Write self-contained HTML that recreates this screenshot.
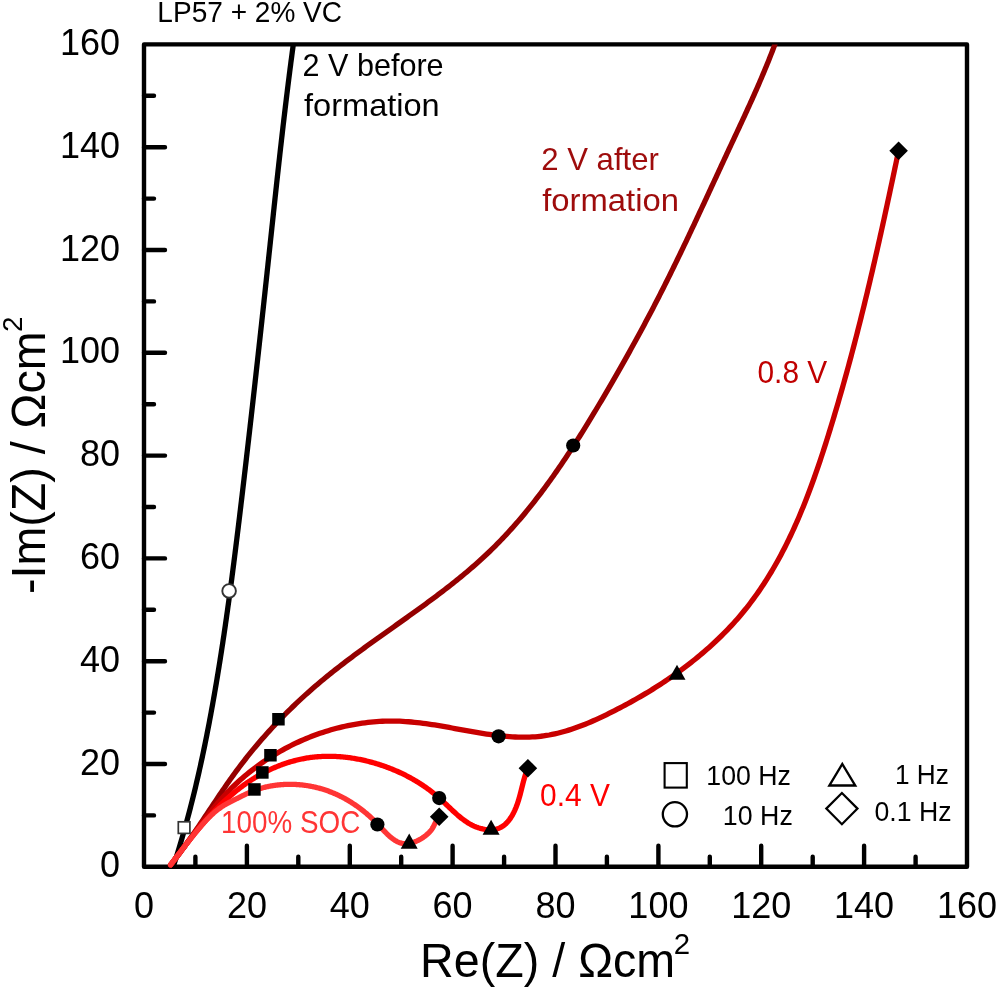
<!DOCTYPE html>
<html><head><meta charset="utf-8"><style>
html,body{margin:0;padding:0;background:#fff;width:998px;height:988px;overflow:hidden}
svg{display:block;filter:blur(0.4px)}
text{font-family:"Liberation Sans",sans-serif}
</style></head><body>
<svg width="998" height="988" viewBox="0 0 998 988">
<rect width="998" height="988" fill="#fff"/>
<path d="M195.4,866.8 v-10 M144.0,815.4 h10 M246.9,866.8 v-21 M144.0,764.0 h21 M298.3,866.8 v-10 M144.0,712.6 h10 M349.8,866.8 v-21 M144.0,661.2 h21 M401.2,866.8 v-10 M144.0,609.8 h10 M452.6,866.8 v-21 M144.0,558.4 h21 M504.1,866.8 v-10 M144.0,507.0 h10 M555.5,866.8 v-21 M144.0,455.6 h21 M606.9,866.8 v-10 M144.0,404.2 h10 M658.4,866.8 v-21 M144.0,352.8 h21 M709.8,866.8 v-10 M144.0,301.4 h10 M761.2,866.8 v-21 M144.0,250.0 h21 M812.7,866.8 v-10 M144.0,198.6 h10 M864.1,866.8 v-21 M144.0,147.2 h21 M915.6,866.8 v-10 M144.0,95.8 h10" stroke="#000" stroke-width="4.4" stroke-linecap="round" fill="none"/>
<rect x="144.0" y="44.4" width="823.0" height="822.4" fill="none" stroke="#000" stroke-width="4.4" stroke-linejoin="round"/>
<clipPath id="c"><rect x="144.0" y="44.4" width="823.0" height="832.4"/></clipPath>
<g clip-path="url(#c)">
<path d="M173.49,866.00 L174.13,864.01 L174.77,862.03 L175.40,860.04 L176.03,858.05 L176.66,856.06 L177.27,854.07 L177.89,852.08 L178.50,850.08 L179.11,848.09 L179.71,846.09 L180.30,844.09 L180.90,842.10 L181.48,840.10 L182.07,838.10 L182.65,836.10 L183.22,834.09 L183.79,832.09 L184.36,830.09 L184.92,828.08 L185.48,826.07 L186.04,824.07 L186.59,822.06 L187.13,820.05 L187.67,818.04 L188.21,816.03 L188.75,814.02 L189.28,812.00 L189.80,809.99 L190.33,807.97 L190.84,805.96 L191.36,803.94 L191.87,801.92 L192.38,799.90 L192.88,797.88 L193.38,795.86 L193.88,793.84 L194.37,791.82 L194.86,789.80 L195.35,787.77 L195.83,785.75 L196.31,783.72 L196.78,781.70 L197.25,779.67 L197.72,777.64 L198.19,775.61 L198.65,773.58 L199.11,771.55 L199.56,769.52 L200.02,767.49 L200.47,765.46 L200.91,763.43 L201.35,761.39 L201.79,759.36 L202.23,757.32 L202.67,755.29 L203.10,753.25 L203.52,751.21 L203.95,749.17 L204.37,747.14 L204.79,745.10 L205.21,743.06 L205.62,741.02 L206.03,738.98 L206.44,736.93 L206.84,734.89 L207.25,732.85 L207.65,730.81 L208.04,728.76 L208.44,726.72 L208.83,724.67 L209.22,722.63 L209.61,720.58 L209.99,718.54 L210.38,716.49 L210.76,714.44 L211.14,712.39 L211.51,710.34 L211.88,708.30 L212.26,706.25 L212.63,704.20 L212.99,702.15 L213.36,700.10 L213.72,698.05 L214.08,695.99 L214.44,693.94 L214.79,691.89 L215.15,689.84 L215.50,687.78 L215.85,685.73 L216.20,683.68 L216.55,681.62 L216.89,679.57 L217.23,677.51 L217.57,675.46 L217.91,673.40 L218.25,671.35 L218.58,669.29 L218.92,667.23 L219.25,665.18 L219.58,663.12 L219.91,661.06 L220.23,659.01 L220.56,656.95 L220.88,654.89 L221.20,652.83 L221.52,650.77 L221.84,648.71 L222.15,646.65 L222.47,644.59 L222.78,642.53 L223.09,640.47 L223.40,638.41 L223.71,636.35 L224.02,634.29 L224.32,632.23 L224.63,630.16 L224.93,628.10 L225.23,626.04 L225.53,623.98 L225.82,621.91 L226.12,619.85 L226.42,617.79 L226.71,615.72 L227.00,613.66 L227.29,611.59 L227.58,609.53 L227.87,607.46 L228.16,605.40 L228.44,603.33 L228.73,601.27 L229.01,599.20 L229.29,597.14 L229.57,595.07 L229.85,593.01 L230.13,590.94 L230.41,588.87 L230.69,586.81 L230.96,584.74 L231.24,582.67 L231.51,580.61 L231.78,578.54 L232.05,576.47 L232.32,574.40 L232.59,572.34 L232.86,570.27 L233.13,568.20 L233.39,566.13 L233.66,564.06 L233.92,561.99 L234.19,559.93 L234.45,557.86 L234.71,555.79 L234.97,553.72 L235.23,551.65 L235.49,549.58 L235.75,547.51 L236.01,545.44 L236.27,543.37 L236.52,541.30 L236.78,539.23 L237.04,537.16 L237.29,535.10 L237.54,533.03 L237.80,530.96 L238.05,528.89 L238.30,526.82 L238.55,524.75 L238.81,522.68 L239.06,520.61 L239.31,518.54 L239.56,516.47 L239.81,514.39 L240.05,512.32 L240.30,510.25 L240.55,508.18 L240.80,506.11 L241.04,504.04 L241.29,501.97 L241.54,499.90 L241.78,497.83 L242.03,495.76 L242.28,493.69 L242.52,491.62 L242.77,489.55 L243.01,487.48 L243.25,485.41 L243.50,483.34 L243.74,481.27 L243.99,479.20 L244.23,477.13 L244.47,475.06 L244.71,472.99 L244.96,470.92 L245.20,468.85 L245.44,466.78 L245.68,464.71 L245.92,462.64 L246.16,460.57 L246.40,458.50 L246.64,456.43 L246.88,454.36 L247.12,452.29 L247.36,450.22 L247.60,448.15 L247.84,446.07 L248.08,444.00 L248.32,441.93 L248.56,439.86 L248.79,437.79 L249.03,435.72 L249.27,433.65 L249.51,431.58 L249.74,429.51 L249.98,427.44 L250.21,425.37 L250.45,423.30 L250.69,421.23 L250.92,419.16 L251.16,417.09 L251.39,415.02 L251.63,412.95 L251.86,410.88 L252.10,408.81 L252.33,406.74 L252.56,404.67 L252.80,402.60 L253.03,400.53 L253.26,398.46 L253.50,396.39 L253.73,394.32 L253.96,392.25 L254.19,390.17 L254.43,388.10 L254.66,386.03 L254.89,383.96 L255.12,381.89 L255.35,379.82 L255.58,377.75 L255.81,375.68 L256.04,373.61 L256.27,371.54 L256.50,369.47 L256.73,367.40 L256.96,365.33 L257.19,363.26 L257.42,361.19 L257.65,359.12 L257.88,357.05 L258.11,354.97 L258.34,352.90 L258.57,350.83 L258.80,348.76 L259.02,346.69 L259.25,344.62 L259.48,342.55 L259.71,340.48 L259.93,338.41 L260.16,336.34 L260.39,334.27 L260.62,332.20 L260.84,330.13 L261.07,328.05 L261.30,325.98 L261.52,323.91 L261.75,321.84 L261.97,319.77 L262.20,317.70 L262.42,315.63 L262.65,313.56 L262.88,311.49 L263.10,309.42 L263.33,307.34 L263.55,305.27 L263.78,303.20 L264.00,301.13 L264.22,299.06 L264.45,296.99 L264.67,294.92 L264.90,292.85 L265.12,290.78 L265.34,288.70 L265.57,286.63 L265.79,284.56 L266.02,282.49 L266.24,280.42 L266.46,278.35 L266.68,276.28 L266.91,274.20 L267.13,272.13 L267.35,270.06 L267.58,267.99 L267.80,265.92 L268.02,263.85 L268.24,261.78 L268.47,259.70 L268.69,257.63 L268.91,255.56 L269.13,253.49 L269.35,251.42 L269.57,249.35 L269.80,247.27 L270.02,245.20 L270.24,243.13 L270.46,241.06 L270.68,238.99 L270.90,236.91 L271.13,234.84 L271.35,232.77 L271.57,230.70 L271.79,228.63 L272.01,226.56 L272.23,224.48 L272.45,222.41 L272.68,220.34 L272.90,218.27 L273.12,216.20 L273.34,214.12 L273.56,212.05 L273.79,209.98 L274.01,207.91 L274.23,205.84 L274.46,203.76 L274.68,201.69 L274.90,199.62 L275.13,197.55 L275.35,195.48 L275.57,193.41 L275.80,191.33 L276.02,189.26 L276.25,187.19 L276.47,185.12 L276.70,183.05 L276.92,180.98 L277.15,178.90 L277.38,176.83 L277.61,174.76 L277.83,172.69 L278.06,170.62 L278.29,168.55 L278.52,166.47 L278.75,164.40 L278.98,162.33 L279.21,160.26 L279.44,158.19 L279.67,156.12 L279.90,154.05 L280.13,151.98 L280.37,149.91 L280.60,147.83 L280.84,145.76 L281.07,143.69 L281.31,141.62 L281.54,139.55 L281.78,137.48 L282.02,135.41 L282.25,133.34 L282.49,131.27 L282.73,129.20 L282.97,127.13 L283.21,125.06 L283.45,122.99 L283.70,120.92 L283.94,118.85 L284.18,116.78 L284.43,114.71 L284.67,112.64 L284.92,110.57 L285.16,108.50 L285.41,106.43 L285.66,104.36 L285.91,102.29 L286.16,100.22 L286.41,98.15 L286.66,96.09 L286.92,94.02 L287.17,91.95 L287.43,89.88 L287.68,87.81 L287.94,85.74 L288.20,83.67 L288.46,81.61 L288.72,79.54 L288.98,77.47 L289.24,75.40 L289.50,73.33 L289.77,71.27 L290.03,69.20 L290.30,67.13 L290.57,65.06 L290.83,63.00 L291.10,60.93 L291.38,58.86 L291.65,56.80 L291.92,54.73 L292.20,52.66 L292.47,50.60 L292.75,48.53 L293.03,46.47 L293.31,44.40" stroke="#000" stroke-width="5.3" fill="none" stroke-linecap="round" stroke-linejoin="round"/>
<path d="M170.61,864.80 L172.23,862.80 L173.83,860.78 L175.42,858.75 L177.00,856.71 L178.56,854.65 L180.12,852.59 L181.66,850.51 L183.19,848.43 L184.72,846.33 L186.23,844.23 L187.74,842.12 L189.23,840.00 L190.72,837.87 L192.21,835.74 L193.68,833.60 L195.15,831.45 L196.62,829.30 L198.08,827.15 L199.54,824.99 L200.99,822.82 L202.44,820.66 L203.89,818.49 L205.33,816.32 L206.78,814.14 L208.22,811.97 L209.66,809.80 L211.11,807.62 L212.55,805.45 L214.00,803.27 L215.45,801.10 L216.90,798.93 L218.35,796.76 L219.81,794.60 L221.28,792.44 L222.74,790.28 L224.22,788.13 L225.69,785.98 L227.18,783.84 L228.67,781.71 L230.17,779.58 L231.68,777.46 L233.20,775.35 L234.73,773.24 L236.26,771.14 L237.81,769.06 L239.37,766.98 L240.94,764.91 L242.51,762.85 L244.10,760.80 L245.70,758.75 L247.31,756.72 L248.93,754.70 L250.56,752.68 L252.19,750.67 L253.84,748.68 L255.50,746.69 L257.17,744.71 L258.84,742.74 L260.53,740.78 L262.23,738.82 L263.93,736.88 L265.65,734.95 L267.37,733.02 L269.11,731.10 L270.85,729.20 L272.61,727.30 L274.37,725.41 L276.14,723.53 L277.92,721.66 L279.71,719.80 L281.51,717.94 L283.32,716.10 L285.14,714.26 L286.97,712.44 L288.80,710.62 L290.65,708.81 L292.50,707.01 L294.36,705.22 L296.24,703.44 L298.12,701.66 L300.01,699.90 L301.90,698.15 L303.81,696.40 L305.73,694.66 L307.65,692.94 L309.58,691.22 L311.52,689.51 L313.47,687.80 L315.43,686.11 L317.39,684.43 L319.37,682.76 L321.35,681.09 L323.34,679.43 L325.34,677.79 L327.35,676.15 L329.36,674.51 L331.38,672.89 L333.41,671.27 L335.44,669.66 L337.48,668.06 L339.53,666.47 L341.58,664.88 L343.64,663.30 L345.71,661.72 L347.78,660.15 L349.85,658.58 L351.93,657.02 L354.02,655.47 L356.10,653.92 L358.20,652.37 L360.29,650.83 L362.39,649.29 L364.50,647.76 L366.60,646.23 L368.71,644.70 L370.83,643.18 L372.94,641.66 L375.06,640.14 L377.18,638.62 L379.30,637.11 L381.42,635.59 L383.54,634.08 L385.67,632.57 L387.79,631.06 L389.92,629.55 L392.05,628.04 L394.17,626.54 L396.30,625.03 L398.43,623.52 L400.55,622.01 L402.67,620.50 L404.80,618.99 L406.92,617.48 L409.04,615.96 L411.16,614.45 L413.28,612.93 L415.39,611.41 L417.50,609.89 L419.61,608.36 L421.72,606.83 L423.82,605.30 L425.92,603.77 L428.02,602.23 L430.11,600.68 L432.20,599.13 L434.28,597.58 L436.36,596.02 L438.43,594.46 L440.50,592.89 L442.56,591.32 L444.62,589.74 L446.67,588.16 L448.72,586.56 L450.76,584.97 L452.79,583.36 L454.82,581.75 L456.84,580.13 L458.85,578.50 L460.86,576.86 L462.85,575.22 L464.84,573.57 L466.83,571.91 L468.80,570.24 L470.76,568.56 L472.72,566.87 L474.66,565.17 L476.60,563.46 L478.53,561.75 L480.44,560.02 L482.35,558.28 L484.25,556.53 L486.14,554.77 L488.01,552.99 L489.88,551.21 L491.73,549.41 L493.57,547.61 L495.40,545.79 L497.22,543.95 L499.03,542.11 L500.83,540.26 L502.62,538.39 L504.40,536.51 L506.16,534.63 L507.92,532.73 L509.66,530.82 L511.40,528.90 L513.13,526.97 L514.84,525.03 L516.55,523.08 L518.24,521.13 L519.93,519.16 L521.61,517.18 L523.28,515.19 L524.93,513.20 L526.58,511.19 L528.22,509.18 L529.86,507.16 L531.48,505.13 L533.09,503.09 L534.70,501.04 L536.29,498.99 L537.88,496.93 L539.46,494.86 L541.04,492.78 L542.60,490.70 L544.16,488.61 L545.70,486.51 L547.24,484.40 L548.78,482.29 L550.30,480.17 L551.82,478.05 L553.33,475.92 L554.83,473.78 L556.33,471.64 L557.82,469.49 L559.30,467.34 L560.78,465.18 L562.25,463.02 L563.71,460.85 L565.17,458.68 L566.62,456.50 L568.06,454.32 L569.50,452.13 L570.93,449.94 L572.36,447.75 L573.78,445.55 L575.20,443.35 L576.60,441.14 L578.01,438.93 L579.41,436.72 L580.80,434.51 L582.19,432.29 L583.57,430.07 L584.95,427.85 L586.33,425.62 L587.70,423.39 L589.06,421.16 L590.42,418.93 L591.78,416.70 L593.13,414.46 L594.48,412.23 L595.82,409.99 L597.16,407.75 L598.50,405.51 L599.83,403.27 L601.16,401.03 L602.49,398.79 L603.81,396.55 L605.13,394.31 L606.44,392.07 L607.76,389.82 L609.07,387.58 L610.37,385.34 L611.68,383.09 L612.97,380.85 L614.27,378.60 L615.56,376.36 L616.85,374.11 L618.14,371.86 L619.42,369.62 L620.70,367.37 L621.98,365.12 L623.25,362.87 L624.52,360.61 L625.79,358.36 L627.05,356.10 L628.31,353.85 L629.57,351.59 L630.82,349.33 L632.07,347.07 L633.32,344.81 L634.57,342.55 L635.81,340.29 L637.04,338.02 L638.28,335.75 L639.51,333.48 L640.74,331.21 L641.96,328.94 L643.18,326.67 L644.40,324.39 L645.62,322.11 L646.83,319.83 L648.04,317.55 L649.24,315.27 L650.45,312.98 L651.65,310.70 L652.84,308.41 L654.03,306.11 L655.22,303.82 L656.41,301.52 L657.59,299.22 L658.77,296.92 L659.95,294.62 L661.12,292.31 L662.30,290.00 L663.46,287.69 L664.63,285.38 L665.79,283.06 L666.95,280.74 L668.10,278.42 L669.26,276.09 L670.41,273.77 L671.55,271.44 L672.70,269.11 L673.84,266.78 L674.98,264.44 L676.12,262.11 L677.25,259.77 L678.38,257.43 L679.51,255.09 L680.64,252.75 L681.77,250.40 L682.89,248.06 L684.02,245.71 L685.14,243.36 L686.25,241.01 L687.37,238.66 L688.49,236.30 L689.60,233.95 L690.71,231.60 L691.82,229.24 L692.93,226.88 L694.04,224.52 L695.14,222.16 L696.25,219.81 L697.35,217.44 L698.45,215.08 L699.55,212.72 L700.65,210.36 L701.75,208.00 L702.85,205.63 L703.95,203.27 L705.05,200.91 L706.14,198.54 L707.24,196.18 L708.33,193.81 L709.43,191.45 L710.52,189.09 L711.61,186.72 L712.71,184.36 L713.80,181.99 L714.89,179.63 L715.99,177.27 L717.08,174.90 L718.17,172.54 L719.27,170.18 L720.36,167.82 L721.45,165.46 L722.55,163.10 L723.64,160.74 L724.73,158.38 L725.83,156.02 L726.92,153.67 L728.02,151.31 L729.12,148.96 L730.22,146.60 L731.31,144.25 L732.41,141.90 L733.51,139.55 L734.61,137.20 L735.70,134.85 L736.80,132.50 L737.90,130.15 L738.99,127.80 L740.08,125.45 L741.18,123.10 L742.27,120.75 L743.35,118.40 L744.44,116.04 L745.52,113.69 L746.60,111.33 L747.68,108.98 L748.75,106.62 L749.83,104.26 L750.89,101.90 L751.96,99.54 L753.02,97.18 L754.07,94.81 L755.13,92.44 L756.17,90.07 L757.21,87.70 L758.25,85.32 L759.28,82.95 L760.31,80.56 L761.33,78.18 L762.34,75.79 L763.35,73.40 L764.36,71.01 L765.35,68.61 L766.34,66.21 L767.32,63.80 L768.30,61.39 L769.26,58.98 L770.22,56.56 L771.17,54.14 L772.12,51.71 L773.05,49.28 L773.98,46.84 L774.90,44.40" stroke="#940000" stroke-width="5.3" fill="none" stroke-linecap="round" stroke-linejoin="round"/>
<path d="M170.61,864.80 L172.38,862.53 L174.14,860.25 L175.89,857.95 L177.64,855.64 L179.37,853.33 L181.10,851.00 L182.83,848.67 L184.55,846.34 L186.27,844.00 L187.99,841.66 L189.71,839.31 L191.43,836.97 L193.16,834.62 L194.89,832.28 L196.62,829.94 L198.35,827.61 L200.10,825.28 L201.85,822.96 L203.61,820.64 L205.39,818.34 L207.17,816.05 L208.97,813.77 L210.78,811.50 L212.61,809.24 L214.45,807.00 L216.31,804.78 L218.19,802.57 L220.09,800.39 L222.01,798.22 L223.95,796.08 L225.92,793.96 L227.91,791.86 L229.92,789.79 L231.97,787.74 L234.03,785.73 L236.13,783.73 L238.25,781.77 L240.40,779.83 L242.57,777.92 L244.76,776.04 L246.98,774.18 L249.23,772.36 L251.49,770.56 L253.78,768.79 L256.10,767.05 L258.43,765.33 L260.78,763.65 L263.16,761.99 L265.56,760.37 L267.98,758.77 L270.41,757.20 L272.87,755.67 L275.35,754.16 L277.84,752.68 L280.35,751.24 L282.89,749.82 L285.43,748.44 L288.00,747.08 L290.58,745.76 L293.18,744.47 L295.79,743.21 L298.42,741.98 L301.07,740.79 L303.73,739.62 L306.40,738.49 L309.09,737.40 L311.79,736.33 L314.50,735.30 L317.22,734.30 L319.96,733.34 L322.71,732.41 L325.47,731.52 L328.24,730.66 L331.02,729.83 L333.81,729.04 L336.61,728.29 L339.42,727.57 L342.24,726.89 L345.07,726.24 L347.90,725.63 L350.75,725.06 L353.59,724.53 L356.45,724.03 L359.31,723.57 L362.18,723.15 L365.05,722.76 L367.93,722.42 L370.82,722.11 L373.70,721.84 L376.59,721.61 L379.49,721.42 L382.39,721.27 L385.29,721.16 L388.19,721.09 L391.09,721.06 L394.00,721.08 L396.90,721.13 L399.81,721.22 L402.71,721.36 L405.62,721.53 L408.53,721.74 L411.43,721.99 L414.34,722.27 L417.24,722.58 L420.15,722.92 L423.05,723.29 L425.95,723.68 L428.86,724.10 L431.76,724.53 L434.66,724.99 L437.56,725.46 L440.46,725.95 L443.36,726.45 L446.26,726.96 L449.15,727.47 L452.05,728.00 L454.94,728.53 L457.83,729.06 L460.73,729.59 L463.61,730.12 L466.50,730.65 L469.39,731.17 L472.27,731.68 L475.15,732.19 L478.03,732.68 L480.91,733.15 L483.79,733.61 L486.66,734.06 L489.54,734.48 L492.41,734.88 L495.27,735.25 L498.14,735.60 L501.00,735.92 L503.86,736.21 L506.72,736.47 L509.57,736.69 L512.42,736.87 L515.27,737.02 L518.12,737.12 L520.96,737.19 L523.80,737.20 L526.64,737.17 L529.47,737.10 L532.30,736.97 L535.12,736.78 L537.95,736.54 L540.77,736.25 L543.58,735.89 L546.39,735.47 L549.20,735.00 L552.01,734.46 L554.80,733.87 L557.60,733.23 L560.39,732.53 L563.17,731.78 L565.95,730.98 L568.72,730.14 L571.49,729.25 L574.25,728.32 L577.00,727.35 L579.75,726.34 L582.49,725.30 L585.22,724.22 L587.94,723.10 L590.66,721.96 L593.37,720.78 L596.06,719.58 L598.75,718.36 L601.44,717.11 L604.11,715.84 L606.77,714.55 L609.42,713.24 L612.06,711.91 L614.69,710.58 L617.31,709.23 L619.92,707.87 L622.52,706.50 L625.11,705.12 L627.68,703.73 L630.25,702.33 L632.80,700.91 L635.35,699.48 L637.88,698.04 L640.40,696.59 L642.91,695.12 L645.41,693.64 L647.90,692.15 L650.38,690.64 L652.85,689.12 L655.31,687.58 L657.76,686.03 L660.20,684.46 L662.62,682.88 L665.04,681.28 L667.44,679.67 L669.84,678.04 L672.22,676.39 L674.60,674.72 L676.96,673.04 L679.32,671.34 L681.66,669.63 L683.99,667.89 L686.31,666.14 L688.62,664.37 L690.92,662.58 L693.20,660.78 L695.47,658.96 L697.72,657.12 L699.97,655.26 L702.19,653.39 L704.40,651.49 L706.60,649.58 L708.78,647.66 L710.95,645.71 L713.09,643.75 L715.22,641.78 L717.34,639.78 L719.43,637.77 L721.51,635.74 L723.57,633.69 L725.60,631.63 L727.62,629.55 L729.62,627.45 L731.60,625.33 L733.56,623.20 L735.49,621.05 L737.40,618.88 L739.30,616.70 L741.16,614.50 L743.01,612.28 L744.83,610.05 L746.63,607.80 L748.41,605.53 L750.16,603.25 L751.90,600.96 L753.61,598.64 L755.30,596.31 L756.97,593.97 L758.62,591.61 L760.25,589.24 L761.86,586.85 L763.45,584.45 L765.01,582.04 L766.56,579.61 L768.09,577.17 L769.60,574.72 L771.10,572.25 L772.57,569.77 L774.03,567.28 L775.46,564.78 L776.88,562.26 L778.29,559.73 L779.67,557.19 L781.04,554.65 L782.39,552.09 L783.73,549.51 L785.04,546.93 L786.35,544.34 L787.63,541.74 L788.91,539.13 L790.16,536.51 L791.41,533.88 L792.63,531.24 L793.85,528.60 L795.04,525.94 L796.23,523.28 L797.40,520.61 L798.56,517.93 L799.70,515.24 L800.83,512.55 L801.95,509.85 L803.06,507.14 L804.15,504.43 L805.24,501.71 L806.31,498.98 L807.37,496.25 L808.42,493.52 L809.45,490.77 L810.48,488.03 L811.50,485.27 L812.50,482.52 L813.50,479.76 L814.49,476.99 L815.47,474.22 L816.43,471.45 L817.40,468.67 L818.35,465.90 L819.29,463.11 L820.23,460.33 L821.15,457.54 L822.07,454.76 L822.99,451.97 L823.89,449.17 L824.79,446.38 L825.68,443.59 L826.57,440.79 L827.45,437.99 L828.32,435.20 L829.19,432.40 L830.05,429.60 L830.91,426.81 L831.77,424.01 L832.62,421.22 L833.46,418.42 L834.30,415.62 L835.13,412.83 L835.96,410.03 L836.79,407.24 L837.61,404.45 L838.42,401.65 L839.24,398.86 L840.04,396.06 L840.85,393.27 L841.64,390.47 L842.44,387.68 L843.23,384.89 L844.01,382.09 L844.79,379.30 L845.57,376.50 L846.34,373.71 L847.11,370.92 L847.88,368.12 L848.64,365.33 L849.40,362.53 L850.15,359.74 L850.90,356.94 L851.65,354.14 L852.39,351.35 L853.13,348.55 L853.86,345.76 L854.59,342.96 L855.32,340.16 L856.05,337.36 L856.77,334.57 L857.49,331.77 L858.20,328.97 L858.91,326.17 L859.62,323.37 L860.32,320.57 L861.03,317.77 L861.72,314.97 L862.42,312.16 L863.11,309.36 L863.80,306.56 L864.49,303.75 L865.17,300.95 L865.85,298.14 L866.53,295.34 L867.21,292.53 L867.88,289.72 L868.55,286.91 L869.22,284.10 L869.88,281.29 L870.55,278.48 L871.21,275.67 L871.87,272.86 L872.52,270.04 L873.18,267.23 L873.83,264.41 L874.48,261.59 L875.12,258.78 L875.77,255.96 L876.41,253.14 L877.05,250.31 L877.69,247.49 L878.33,244.67 L878.96,241.84 L879.60,239.02 L880.23,236.19 L880.86,233.36 L881.49,230.53 L882.11,227.70 L882.74,224.87 L883.36,222.03 L883.98,219.20 L884.60,216.36 L885.22,213.53 L885.84,210.69 L886.46,207.85 L887.07,205.00 L887.69,202.16 L888.30,199.31 L888.91,196.47 L889.52,193.62 L890.13,190.77 L890.74,187.92 L891.35,185.06 L891.96,182.21 L892.56,179.35 L893.17,176.49 L893.77,173.63 L894.38,170.77 L894.98,167.91 L895.59,165.04 L896.19,162.18 L896.79,159.31 L897.39,156.44 L897.99,153.56 L898.59,150.69" stroke="#c80000" stroke-width="5.3" fill="none" stroke-linecap="round" stroke-linejoin="round"/>
<path d="M170.60,864.80 L171.29,863.89 L171.97,862.97 L172.66,862.06 L173.34,861.14 L174.03,860.22 L174.71,859.30 L175.40,858.39 L176.09,857.47 L176.78,856.55 L177.47,855.63 L178.16,854.72 L178.86,853.80 L179.55,852.88 L180.25,851.96 L180.94,851.05 L181.64,850.13 L182.34,849.22 L183.04,848.30 L183.74,847.38 L184.45,846.47 L185.15,845.56 L185.86,844.64 L186.57,843.73 L187.28,842.82 L187.99,841.91 L188.70,841.00 L189.42,840.09 L190.13,839.19 L190.85,838.28 L191.57,837.38 L192.29,836.48 L193.02,835.57 L193.74,834.67 L194.47,833.78 L195.20,832.88 L195.93,831.99 L196.67,831.09 L197.40,830.20 L198.14,829.31 L198.88,828.43 L199.62,827.54 L200.37,826.66 L201.12,825.78 L201.87,824.90 L202.62,824.02 L203.38,823.15 L204.13,822.28 L204.89,821.41 L205.66,820.55 L206.42,819.68 L207.19,818.82 L207.96,817.97 L208.74,817.11 L209.51,816.26 L210.29,815.41 L211.07,814.57 L211.86,813.72 L212.65,812.89 L213.44,812.05 L214.23,811.22 L215.03,810.39 L215.83,809.56 L216.64,808.74 L217.44,807.93 L218.25,807.11 L219.07,806.30 L219.88,805.50 L220.70,804.69 L221.53,803.89 L222.36,803.10 L223.19,802.31 L224.02,801.52 L224.86,800.74 L225.70,799.97 L226.55,799.19 L227.40,798.42 L228.25,797.66 L229.10,796.90 L229.97,796.15 L230.83,795.40 L231.70,794.65 L232.57,793.91 L233.45,793.18 L234.33,792.45 L235.21,791.72 L236.10,791.00 L236.99,790.29 L237.89,789.58 L238.79,788.88 L239.70,788.18 L240.61,787.49 L241.52,786.80 L242.44,786.12 L243.36,785.44 L244.29,784.77 L245.22,784.11 L246.16,783.45 L247.10,782.80 L248.05,782.15 L249.00,781.51 L249.95,780.88 L250.92,780.25 L251.88,779.63 L252.85,779.02 L253.83,778.41 L254.81,777.81 L255.79,777.21 L256.78,776.63 L257.77,776.05 L258.77,775.47 L259.77,774.90 L260.78,774.34 L261.79,773.79 L262.81,773.24 L263.83,772.71 L264.85,772.17 L265.88,771.65 L266.91,771.13 L267.95,770.63 L268.99,770.12 L270.03,769.63 L271.08,769.15 L272.13,768.67 L273.18,768.20 L274.24,767.74 L275.30,767.28 L276.36,766.84 L277.43,766.40 L278.50,765.97 L279.58,765.55 L280.65,765.14 L281.73,764.73 L282.82,764.34 L283.90,763.95 L284.99,763.57 L286.08,763.21 L287.18,762.85 L288.27,762.50 L289.37,762.15 L290.47,761.82 L291.58,761.50 L292.68,761.18 L293.79,760.88 L294.90,760.59 L296.02,760.30 L297.13,760.02 L298.25,759.76 L299.37,759.50 L300.49,759.26 L301.61,759.02 L302.73,758.79 L303.86,758.58 L304.99,758.37 L306.12,758.17 L307.25,757.99 L308.38,757.81 L309.51,757.65 L310.65,757.49 L311.78,757.34 L312.92,757.21 L314.06,757.08 L315.20,756.96 L316.34,756.86 L317.48,756.76 L318.62,756.67 L319.76,756.59 L320.91,756.53 L322.05,756.47 L323.19,756.42 L324.34,756.38 L325.48,756.35 L326.63,756.32 L327.78,756.31 L328.92,756.31 L330.07,756.31 L331.22,756.33 L332.37,756.35 L333.51,756.38 L334.66,756.42 L335.81,756.47 L336.96,756.53 L338.10,756.60 L339.25,756.68 L340.40,756.76 L341.54,756.85 L342.69,756.96 L343.83,757.07 L344.98,757.18 L346.12,757.31 L347.27,757.45 L348.41,757.59 L349.55,757.74 L350.70,757.90 L351.84,758.07 L352.98,758.25 L354.11,758.43 L355.25,758.62 L356.39,758.82 L357.52,759.03 L358.66,759.24 L359.79,759.47 L360.92,759.70 L362.05,759.94 L363.18,760.18 L364.31,760.44 L365.43,760.70 L366.56,760.97 L367.68,761.24 L368.80,761.53 L369.92,761.82 L371.04,762.11 L372.15,762.42 L373.26,762.73 L374.37,763.05 L375.48,763.37 L376.59,763.71 L377.69,764.05 L378.80,764.39 L379.89,764.75 L380.99,765.11 L382.09,765.47 L383.18,765.85 L384.27,766.23 L385.35,766.61 L386.44,767.01 L387.52,767.41 L388.60,767.81 L389.67,768.23 L390.75,768.65 L391.82,769.07 L392.88,769.51 L393.95,769.95 L395.01,770.39 L396.07,770.84 L397.12,771.30 L398.17,771.77 L399.22,772.25 L400.27,772.73 L401.31,773.21 L402.35,773.71 L403.38,774.21 L404.41,774.72 L405.44,775.23 L406.47,775.75 L407.49,776.28 L408.51,776.82 L409.52,777.36 L410.53,777.91 L411.54,778.47 L412.54,779.03 L413.54,779.60 L414.54,780.18 L415.53,780.77 L416.52,781.36 L417.50,781.96 L418.48,782.57 L419.46,783.18 L420.43,783.81 L421.40,784.44 L422.37,785.07 L423.33,785.72 L424.28,786.37 L425.24,787.03 L426.19,787.69 L427.13,788.37 L428.07,789.05 L429.00,789.74 L429.93,790.44 L430.86,791.14 L431.78,791.85 L432.70,792.57 L433.61,793.30 L434.52,794.03 L435.42,794.77 L436.32,795.52 L437.22,796.28 L438.11,797.05 L438.99,797.82 L439.87,798.60 L440.75,799.39 L441.62,800.18 L442.49,800.98 L443.35,801.79 L444.21,802.60 L445.07,803.41 L445.93,804.22 L446.79,805.04 L447.64,805.85 L448.50,806.67 L449.35,807.48 L450.21,808.29 L451.07,809.10 L451.92,809.91 L452.78,810.71 L453.64,811.51 L454.51,812.30 L455.37,813.08 L456.24,813.86 L457.12,814.63 L458.00,815.39 L458.88,816.14 L459.77,816.88 L460.66,817.60 L461.56,818.32 L462.47,819.02 L463.38,819.70 L464.30,820.37 L465.23,821.03 L466.17,821.67 L467.12,822.29 L468.07,822.89 L469.04,823.48 L470.01,824.04 L471.00,824.58 L471.99,825.10 L473.00,825.60 L474.02,826.08 L475.05,826.53 L476.10,826.96 L477.15,827.36 L478.22,827.73 L479.31,828.08 L480.41,828.40 L481.52,828.69 L482.64,828.95 L483.77,829.18 L484.91,829.37 L486.05,829.53 L487.19,829.65 L488.33,829.73 L489.47,829.77 L490.60,829.77 L491.72,829.73 L492.84,829.64 L493.94,829.51 L495.03,829.33 L496.10,829.10 L497.15,828.82 L498.18,828.49 L499.19,828.11 L500.17,827.67 L501.12,827.18 L502.05,826.63 L502.96,826.04 L503.84,825.40 L504.69,824.71 L505.52,823.99 L506.32,823.22 L507.10,822.41 L507.86,821.56 L508.59,820.69 L509.30,819.77 L509.98,818.83 L510.65,817.87 L511.29,816.87 L511.91,815.86 L512.51,814.82 L513.08,813.76 L513.64,812.69 L514.17,811.61 L514.69,810.51 L515.18,809.40 L515.66,808.28 L516.12,807.16 L516.55,806.03 L516.97,804.90 L517.37,803.77 L517.76,802.64 L518.13,801.51 L518.49,800.37 L518.83,799.23 L519.16,798.09 L519.49,796.96 L519.80,795.82 L520.11,794.68 L520.41,793.54 L520.70,792.40 L520.99,791.27 L521.27,790.13 L521.55,789.00 L521.83,787.87 L522.11,786.74 L522.40,785.61 L522.68,784.49 L522.96,783.37 L523.25,782.25 L523.55,781.14 L523.85,780.03 L524.16,778.92 L524.48,777.83 L524.80,776.73 L525.14,775.64 L525.49,774.56 L525.86,773.48 L526.23,772.41 L526.62,771.35 L527.03,770.29 L527.46,769.25 L527.90,768.20" stroke="#ff0000" stroke-width="5.3" fill="none" stroke-linecap="round" stroke-linejoin="round"/>
<path d="M170.60,864.80 L171.11,864.13 L171.62,863.47 L172.13,862.80 L172.63,862.13 L173.14,861.47 L173.64,860.80 L174.14,860.14 L174.65,859.48 L175.15,858.81 L175.65,858.15 L176.15,857.49 L176.65,856.83 L177.15,856.17 L177.65,855.51 L178.15,854.86 L178.64,854.20 L179.14,853.54 L179.64,852.89 L180.14,852.23 L180.63,851.58 L181.13,850.92 L181.63,850.27 L182.13,849.62 L182.62,848.97 L183.12,848.32 L183.62,847.67 L184.12,847.02 L184.62,846.37 L185.11,845.72 L185.61,845.07 L186.11,844.43 L186.61,843.78 L187.12,843.13 L187.62,842.49 L188.12,841.85 L188.62,841.20 L189.13,840.56 L189.63,839.92 L190.14,839.27 L190.65,838.63 L191.16,837.99 L191.67,837.35 L192.18,836.71 L192.69,836.07 L193.21,835.44 L193.72,834.80 L194.24,834.16 L194.76,833.52 L195.28,832.89 L195.80,832.25 L196.32,831.62 L196.85,830.98 L197.37,830.35 L197.90,829.72 L198.43,829.08 L198.97,828.45 L199.50,827.82 L200.04,827.19 L200.58,826.56 L201.12,825.93 L201.67,825.31 L202.21,824.68 L202.76,824.06 L203.32,823.44 L203.87,822.82 L204.43,822.21 L204.99,821.60 L205.56,820.99 L206.12,820.38 L206.70,819.78 L207.27,819.18 L207.85,818.58 L208.43,817.99 L209.01,817.40 L209.60,816.82 L210.20,816.24 L210.79,815.67 L211.39,815.10 L212.00,814.54 L212.61,813.98 L213.22,813.43 L213.84,812.88 L214.46,812.34 L215.09,811.81 L215.72,811.28 L216.36,810.76 L217.00,810.24 L217.65,809.73 L218.30,809.23 L218.95,808.74 L219.62,808.26 L220.28,807.78 L220.96,807.31 L221.63,806.85 L222.32,806.39 L223.01,805.95 L223.70,805.51 L224.40,805.09 L225.11,804.67 L225.82,804.26 L226.53,803.86 L227.25,803.46 L227.98,803.07 L228.71,802.68 L229.43,802.31 L230.17,801.93 L230.90,801.56 L231.63,801.19 L232.37,800.82 L233.10,800.46 L233.84,800.09 L234.57,799.73 L235.30,799.37 L236.03,799.00 L236.76,798.64 L237.49,798.27 L238.22,797.91 L238.94,797.54 L239.67,797.18 L240.39,796.81 L241.12,796.45 L241.84,796.09 L242.56,795.73 L243.29,795.37 L244.01,795.02 L244.74,794.67 L245.46,794.32 L246.19,793.97 L246.92,793.63 L247.65,793.29 L248.39,792.96 L249.12,792.63 L249.86,792.30 L250.60,791.98 L251.34,791.67 L252.09,791.36 L252.84,791.06 L253.60,790.76 L254.35,790.47 L255.11,790.18 L255.88,789.91 L256.65,789.64 L257.42,789.38 L258.20,789.12 L258.98,788.87 L259.77,788.63 L260.55,788.39 L261.34,788.16 L262.14,787.94 L262.94,787.73 L263.74,787.52 L264.54,787.32 L265.35,787.12 L266.15,786.93 L266.97,786.75 L267.78,786.58 L268.60,786.41 L269.41,786.25 L270.24,786.09 L271.06,785.95 L271.88,785.80 L272.71,785.67 L273.54,785.54 L274.37,785.42 L275.20,785.30 L276.04,785.19 L276.87,785.09 L277.71,785.00 L278.54,784.91 L279.38,784.82 L280.22,784.75 L281.06,784.68 L281.91,784.61 L282.75,784.56 L283.59,784.50 L284.43,784.46 L285.28,784.42 L286.12,784.39 L286.97,784.37 L287.81,784.35 L288.66,784.33 L289.50,784.33 L290.34,784.33 L291.19,784.33 L292.03,784.35 L292.88,784.36 L293.72,784.39 L294.56,784.42 L295.40,784.46 L296.24,784.50 L297.08,784.55 L297.92,784.61 L298.76,784.67 L299.59,784.74 L300.43,784.81 L301.26,784.89 L302.09,784.98 L302.92,785.07 L303.75,785.17 L304.58,785.27 L305.40,785.38 L306.22,785.50 L307.04,785.62 L307.86,785.75 L308.68,785.88 L309.49,786.02 L310.31,786.17 L311.12,786.32 L311.93,786.48 L312.73,786.64 L313.54,786.81 L314.34,786.99 L315.14,787.17 L315.94,787.36 L316.74,787.55 L317.53,787.75 L318.32,787.95 L319.11,788.16 L319.90,788.38 L320.69,788.60 L321.47,788.82 L322.26,789.06 L323.04,789.29 L323.82,789.54 L324.59,789.79 L325.37,790.04 L326.14,790.30 L326.91,790.57 L327.68,790.84 L328.44,791.11 L329.21,791.40 L329.97,791.68 L330.73,791.98 L331.48,792.27 L332.24,792.58 L332.99,792.89 L333.74,793.20 L334.49,793.52 L335.24,793.84 L335.98,794.17 L336.72,794.51 L337.46,794.85 L338.20,795.19 L338.94,795.54 L339.67,795.90 L340.40,796.26 L341.13,796.63 L341.86,797.00 L342.58,797.37 L343.31,797.76 L344.03,798.14 L344.75,798.53 L345.46,798.93 L346.17,799.33 L346.89,799.74 L347.60,800.15 L348.30,800.56 L349.01,800.98 L349.71,801.41 L350.41,801.84 L351.11,802.28 L351.80,802.72 L352.49,803.16 L353.19,803.61 L353.87,804.07 L354.56,804.53 L355.24,804.99 L355.93,805.46 L356.61,805.93 L357.28,806.41 L357.96,806.89 L358.63,807.38 L359.30,807.87 L359.97,808.37 L360.63,808.87 L361.29,809.38 L361.95,809.89 L362.61,810.40 L363.27,810.92 L363.92,811.44 L364.57,811.97 L365.22,812.50 L365.87,813.04 L366.51,813.58 L367.15,814.13 L367.79,814.68 L368.43,815.23 L369.06,815.79 L369.69,816.35 L370.32,816.92 L370.95,817.49 L371.57,818.07 L372.19,818.65 L372.81,819.23 L373.43,819.82 L374.04,820.41 L374.65,821.01 L375.26,821.61 L375.87,822.21 L376.47,822.82 L377.07,823.44 L377.67,824.05 L378.27,824.67 L378.86,825.30 L379.46,825.93 L380.05,826.55 L380.64,827.18 L381.22,827.81 L381.81,828.44 L382.40,829.07 L382.98,829.70 L383.57,830.32 L384.16,830.94 L384.74,831.55 L385.33,832.16 L385.92,832.76 L386.51,833.36 L387.11,833.94 L387.70,834.52 L388.30,835.09 L388.90,835.64 L389.50,836.19 L390.11,836.72 L390.72,837.24 L391.34,837.75 L391.96,838.24 L392.58,838.72 L393.21,839.18 L393.85,839.62 L394.49,840.04 L395.13,840.45 L395.78,840.83 L396.44,841.20 L397.11,841.54 L397.78,841.86 L398.46,842.16 L399.15,842.44 L399.84,842.68 L400.55,842.91 L401.26,843.11 L401.98,843.28 L402.71,843.42 L403.45,843.53 L404.20,843.62 L404.96,843.67 L405.73,843.69 L406.51,843.68 L407.31,843.64 L408.11,843.56 L408.93,843.45 L409.75,843.30 L410.58,843.13 L411.42,842.92 L412.27,842.68 L413.12,842.42 L413.97,842.13 L414.82,841.81 L415.68,841.46 L416.53,841.10 L417.37,840.71 L418.22,840.29 L419.05,839.86 L419.88,839.41 L420.70,838.94 L421.51,838.45 L422.31,837.95 L423.09,837.43 L423.86,836.90 L424.61,836.35 L425.34,835.80 L426.06,835.23 L426.75,834.65 L427.43,834.07 L428.07,833.48 L428.70,832.88 L429.30,832.28 L429.86,831.68 L430.40,831.07 L430.91,830.46 L431.39,829.85 L431.83,829.25 L432.24,828.64 L432.62,828.04 L432.97,827.43 L433.30,826.82 L433.62,826.21 L433.93,825.59 L434.23,824.96 L434.55,824.32 L434.87,823.66 L435.21,822.99 L435.57,822.30 L435.96,821.59 L436.38,820.86 L436.84,820.11 L437.35,819.32 L437.90,818.51 L438.52,817.67 L439.20,816.80" stroke="#ff3535" stroke-width="5.3" fill="none" stroke-linecap="round" stroke-linejoin="round"/>
</g>
<rect x="178.3" y="821.8" width="11.6" height="11.6" fill="#fff" stroke="#333" stroke-width="1.7"/>
<circle cx="229.1" cy="590.9" r="6.8" fill="#fff" stroke="#333" stroke-width="1.9"/>
<rect x="272.2" y="713.0" width="12.5" height="12.5" fill="#000"/>
<circle cx="573.2" cy="445.5" r="7.1" fill="#000"/>
<rect x="264.2" y="749.0" width="12.5" height="12.5" fill="#000"/>
<circle cx="498.6" cy="736.3" r="7.1" fill="#000"/>
<path d="M677.0,664.7 L685.5,679.8 L668.5,679.8 Z" fill="#000"/>
<path d="M898.6,141.4 L907.9,150.7 L898.6,160.0 L889.3,150.7 Z" fill="#000"/>
<rect x="256.1" y="766.2" width="12.5" height="12.5" fill="#000"/>
<circle cx="439.2" cy="798.1" r="7.1" fill="#000"/>
<path d="M491.1,819.7 L499.6,834.8 L482.6,834.8 Z" fill="#000"/>
<path d="M527.9,758.9 L537.2,768.2 L527.9,777.5 L518.6,768.2 Z" fill="#000"/>
<rect x="248.2" y="783.2" width="12.5" height="12.5" fill="#000"/>
<circle cx="377.4" cy="824.5" r="7.1" fill="#000"/>
<path d="M409.2,833.6 L417.7,848.7 L400.7,848.7 Z" fill="#000"/>
<path d="M439.2,807.5 L448.5,816.8 L439.2,826.1 L429.9,816.8 Z" fill="#000"/>
<text x="144.0" y="918.2" font-size="36" text-anchor="middle" font-family="Liberation Sans, sans-serif">0</text>
<text x="120" y="877.4" font-size="36" text-anchor="end" font-family="Liberation Sans, sans-serif">0</text>
<text x="246.9" y="918.2" font-size="36" text-anchor="middle" font-family="Liberation Sans, sans-serif">20</text>
<text x="120" y="774.6" font-size="36" text-anchor="end" font-family="Liberation Sans, sans-serif">20</text>
<text x="349.8" y="918.2" font-size="36" text-anchor="middle" font-family="Liberation Sans, sans-serif">40</text>
<text x="120" y="671.8" font-size="36" text-anchor="end" font-family="Liberation Sans, sans-serif">40</text>
<text x="452.6" y="918.2" font-size="36" text-anchor="middle" font-family="Liberation Sans, sans-serif">60</text>
<text x="120" y="569.0" font-size="36" text-anchor="end" font-family="Liberation Sans, sans-serif">60</text>
<text x="555.5" y="918.2" font-size="36" text-anchor="middle" font-family="Liberation Sans, sans-serif">80</text>
<text x="120" y="466.2" font-size="36" text-anchor="end" font-family="Liberation Sans, sans-serif">80</text>
<text x="658.4" y="918.2" font-size="36" text-anchor="middle" font-family="Liberation Sans, sans-serif">100</text>
<text x="120" y="363.4" font-size="36" text-anchor="end" font-family="Liberation Sans, sans-serif">100</text>
<text x="761.2" y="918.2" font-size="36" text-anchor="middle" font-family="Liberation Sans, sans-serif">120</text>
<text x="120" y="260.6" font-size="36" text-anchor="end" font-family="Liberation Sans, sans-serif">120</text>
<text x="864.1" y="918.2" font-size="36" text-anchor="middle" font-family="Liberation Sans, sans-serif">140</text>
<text x="120" y="157.8" font-size="36" text-anchor="end" font-family="Liberation Sans, sans-serif">140</text>
<text x="967.0" y="918.2" font-size="36" text-anchor="middle" font-family="Liberation Sans, sans-serif">160</text>
<text x="120" y="55.0" font-size="36" text-anchor="end" font-family="Liberation Sans, sans-serif">160</text>
<text transform="translate(420.1,976.6) scale(0.976,1)" font-size="47.8" font-family="Liberation Sans, sans-serif">Re(Z) / &#937;cm</text>
<text transform="translate(673.7,953.5)" font-size="29.4" font-family="Liberation Sans, sans-serif">2</text>
<text transform="translate(44.75,594.0) rotate(-90) scale(0.975,1)" font-size="47.8" font-family="Liberation Sans, sans-serif">-Im(Z) / &#937;cm</text>
<text transform="translate(21.6,331.9) rotate(-90) scale(0.979,1)" font-size="28.4" font-family="Liberation Sans, sans-serif">2</text>
<text transform="translate(157.36,22.00) scale(0.9475,1)" font-size="29.60" fill="#000" font-family="Liberation Sans, sans-serif">LP57 + 2% VC</text>
<text transform="translate(302.57,76.10) scale(0.9993,1)" font-size="30.60" fill="#000" font-family="Liberation Sans, sans-serif">2 V before</text>
<text transform="translate(304.07,115.90) scale(1.0635,1)" font-size="30.60" fill="#000" font-family="Liberation Sans, sans-serif">formation</text>
<text transform="translate(541.24,170.40) scale(1.0175,1)" font-size="30.60" fill="#9e0c0c" font-family="Liberation Sans, sans-serif">2 V after</text>
<text transform="translate(542.17,210.50) scale(1.0723,1)" font-size="30.60" fill="#9e0c0c" font-family="Liberation Sans, sans-serif">formation</text>
<text transform="translate(757.51,383.10) scale(0.9482,1)" font-size="31.50" fill="#c00000" font-family="Liberation Sans, sans-serif">0.8 V</text>
<text transform="translate(540.10,806.10) scale(0.9496,1)" font-size="31.50" fill="#ff0000" font-family="Liberation Sans, sans-serif">0.4 V</text>
<text transform="translate(221.07,833.20) scale(0.9035,1)" font-size="30.80" fill="#ff3535" font-family="Liberation Sans, sans-serif">100% SOC</text>
<rect x="664.6" y="763.1" width="22.2" height="24.5" fill="#fff" stroke="#000" stroke-width="2.1"/>
<circle cx="674.9" cy="814.3" r="12.1" fill="#fff" stroke="#000" stroke-width="2.3"/>
<path d="M842.3,764.0 L855.2,785.5 L829.4,785.5 Z" fill="#fff" stroke="#000" stroke-width="2.4" stroke-linejoin="miter"/>
<path d="M841.9,793.0 L857.5,808.6 L841.9,824.2 L826.3,808.6 Z" fill="#fff" stroke="#000" stroke-width="2.2" stroke-linejoin="miter"/>
<text transform="translate(706.36,785.10) scale(0.9438,1)" font-size="28.30" fill="#000" font-family="Liberation Sans, sans-serif">100 Hz</text>
<text transform="translate(722.86,825.10) scale(0.9460,1)" font-size="28.30" fill="#000" font-family="Liberation Sans, sans-serif">10 Hz</text>
<text transform="translate(895.00,784.30) scale(0.9263,1)" font-size="28.30" fill="#000" font-family="Liberation Sans, sans-serif">1 Hz</text>
<text transform="translate(874.43,821.10) scale(0.9428,1)" font-size="28.30" fill="#000" font-family="Liberation Sans, sans-serif">0.1 Hz</text>
</svg>
</body></html>
